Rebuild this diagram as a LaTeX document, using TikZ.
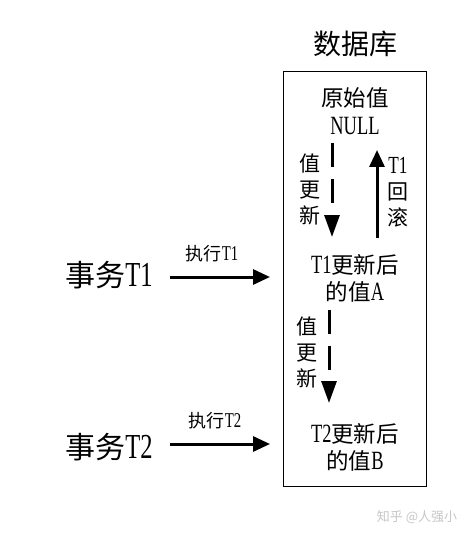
\documentclass[tikz,border=0pt]{standalone}
\usepackage{fontspec}
\setmainfont{Liberation Serif}[FakeStretch=0.7, Scale=1.17]
\newfontfamily\cjk{Noto Sans CJK SC}
\usetikzlibrary{arrows.meta}
\begin{document}
\begin{tikzpicture}[x=1pt,y=-1pt,
  txt/.style={inner sep=0pt, anchor=center, align=center},
  boxtxt/.style={txt, font=\fontsize{22.5}{27}\selectfont},
  vtxt/.style={txt, font=\fontsize{21}{26}\selectfont},
  sidetxt/.style={txt, font=\fontsize{30}{34}\selectfont},
  exectxt/.style={txt, font=\fontsize{18}{22}\selectfont},
  solidarrow/.style={-{Triangle[width=15pt,length=17pt]}, line width=3pt},
  dasharrow/.style={-{Triangle[width=15pt,length=22pt]}, line width=3pt, dash pattern=on 24pt off 12pt}]
\useasboundingbox (0,0) rectangle (474,537);
% database box
\node[txt, font=\fontsize{28}{32}\selectfont] (title) at (355,44) {\cjk 数据库};
\node[draw, line width=1pt, minimum width=143pt, minimum height=414pt, inner sep=0pt] (db) at (354.5,279) {};
\node[boxtxt] (orig) at (355,98) {\cjk 原始值};
\node[boxtxt] (null) at (355,126) {NULL};
\node[boxtxt] (vala) at (355,278) {T1{\cjk 更新后}\\{\cjk 的值}A};
\node[boxtxt] (valb) at (355,447) {T2{\cjk 更新后}\\{\cjk 的值}B};
% inner arrows
\coordinate (d1s) at (332,143);
\coordinate (d1e) at (332,237);
\draw[dasharrow] (d1s) -- (d1e);
\node[vtxt] (upd1) at (310,189) {\cjk 值\\\cjk 更\\\cjk 新};
\coordinate (r1s) at (377,238);
\coordinate (r1e) at (377,150);
\draw[solidarrow] (r1s) -- (r1e);
\node[vtxt] (roll) at (398,192) {T1\\\cjk 回\\\cjk 滚};
\coordinate (d2s) at (329,310);
\coordinate (d2e) at (329,403);
\draw[dasharrow] (d2s) -- (d2e);
\node[vtxt] (upd2) at (307,352) {\cjk 值\\\cjk 更\\\cjk 新};
% transactions
\node[sidetxt] (t1) at (109,275) {{\cjk 事务}T1};
\node[sidetxt] (t2) at (109,447) {{\cjk 事务}T2};
\coordinate (a1s) at (170,277);
\coordinate (a1e) at (270,277);
\coordinate (a2s) at (170,444);
\coordinate (a2e) at (270,444);
\draw[solidarrow] (a1s) -- (a1e);
\draw[solidarrow] (a2s) -- (a2e);
\node[exectxt] (e1) at (212,254) {{\cjk 执行}T1};
\node[exectxt] (e2) at (215,421) {{\cjk 执行}T2};
% watermark
\node[txt, text=gray!45, font=\fontsize{13}{15}\selectfont] (wm) at (417,517) {\cjk 知乎 @人强小};
\end{tikzpicture}
\end{document}
